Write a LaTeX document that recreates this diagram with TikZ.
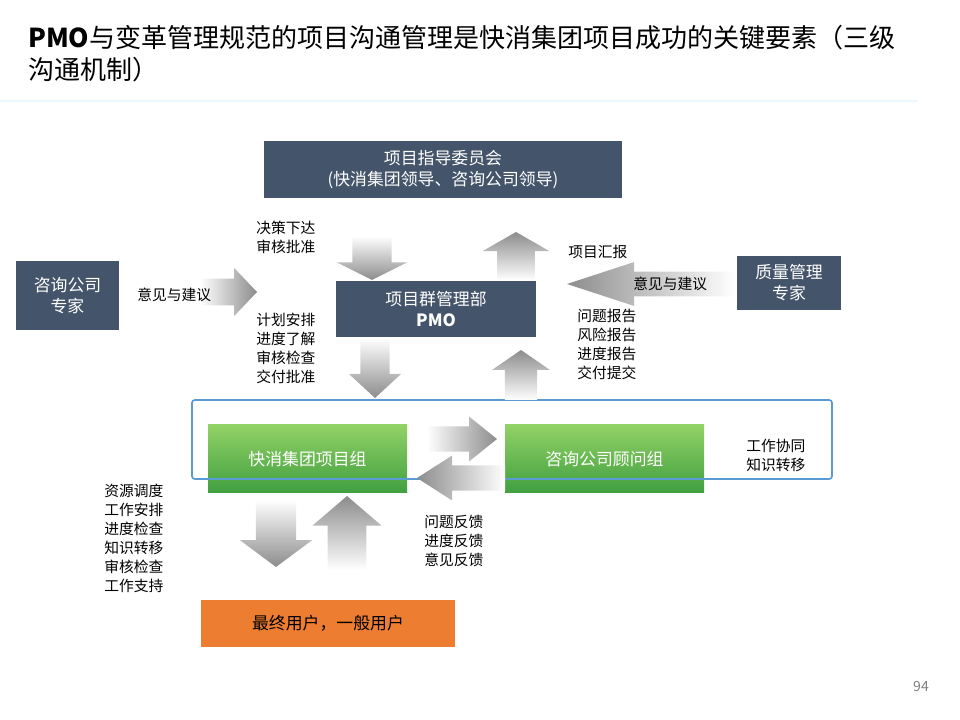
\documentclass[tikz,border=0pt]{standalone}
\usepackage{fontspec}
\setmainfont{Noto Sans CJK SC}
\usepackage{tikz}
\usetikzlibrary{positioning,calc}
\definecolor{slate}{HTML}{44546A}
\definecolor{frame}{HTML}{5B9BD5}
\definecolor{orng}{HTML}{ED7D31}
\tikzstyle{box}=[fill=slate,text=white,align=center,font=\fontsize{12}{15}\selectfont,inner sep=0pt]
\tikzstyle{team}=[top color=green!45!lime!70!black!60,bottom color=green!50!black!75,text=white,font=\fontsize{12}{15}\selectfont,inner sep=0pt]
\tikzstyle{lbl}=[align=left,font=\fontsize{10.5}{13.5}\selectfont,inner sep=0pt,anchor=north west]
% block arrows: centre, start, end, width
\newcommand\arrD[4]{\shade[top color=white,bottom color=black!45] ({#1-0.28*#4},#2) -- ({#1+0.28*#4},#2) -- ({#1+0.28*#4},{#2+0.6*(#3-#2)}) -- ({#1+0.5*#4},{#2+0.6*(#3-#2)}) -- (#1,#3) -- ({#1-0.5*#4},{#2+0.6*(#3-#2)}) -- ({#1-0.28*#4},{#2+0.6*(#3-#2)}) -- cycle;}
\newcommand\arrU[4]{\shade[bottom color=white,top color=black!45] ({#1-0.28*#4},#2) -- ({#1+0.28*#4},#2) -- ({#1+0.28*#4},{#2+0.6*(#3-#2)}) -- ({#1+0.5*#4},{#2+0.6*(#3-#2)}) -- (#1,#3) -- ({#1-0.5*#4},{#2+0.6*(#3-#2)}) -- ({#1-0.28*#4},{#2+0.6*(#3-#2)}) -- cycle;}
\newcommand\arrR[4]{\shade[left color=white,right color=black!45] (#2,{#1-0.28*#4}) -- (#2,{#1+0.28*#4}) -- ({#2+0.6*(#3-#2)},{#1+0.28*#4}) -- ({#2+0.6*(#3-#2)},{#1+0.5*#4}) -- (#3,#1) -- ({#2+0.6*(#3-#2)},{#1-0.5*#4}) -- ({#2+0.6*(#3-#2)},{#1-0.28*#4}) -- cycle;}
\newcommand\arrL[4]{\shade[right color=white,left color=black!45] (#2,{#1-0.28*#4}) -- (#2,{#1+0.28*#4}) -- ({#2+0.6*(#3-#2)},{#1+0.28*#4}) -- ({#2+0.6*(#3-#2)},{#1+0.5*#4}) -- (#3,#1) -- ({#2+0.6*(#3-#2)},{#1-0.5*#4}) -- ({#2+0.6*(#3-#2)},{#1-0.28*#4}) -- cycle;}
\begin{document}
\begin{tikzpicture}[x=0.025cm,y=-0.025cm]
\useasboundingbox (0,0) rectangle (960,720);
\node[anchor=west,inner sep=0pt,font=\fontsize{18.5}{22}\selectfont] (title1) at (28,38) {\textbf{PMO}与变革管理规范的项目沟通管理是快消集团项目成功的关键要素（三级};
\node[anchor=west,inner sep=0pt,font=\fontsize{18.5}{22}\selectfont] (title2) at (28,70) {沟通机制）};
\draw[line width=2pt,cyan!8] (0,101) -- (918,101);

\node[box,minimum width=358*0.025cm,minimum height=57*0.025cm] (steer) at (443,169.5) {项目指导委员会\\(快消集团领导、咨询公司领导)};
\node[box,minimum width=103*0.025cm,minimum height=69*0.025cm] (cexp) at (67.5,295.5) {咨询公司\\专家};
\node[box,minimum width=104*0.025cm,minimum height=54*0.025cm] (qexp) at (789,283) {质量管理\\专家};
\node[box,minimum width=200*0.025cm,minimum height=56*0.025cm] (pmo) at (436,309) {项目群管理部\\\textbf{PMO}};
\node[team,minimum width=199*0.025cm,minimum height=68*0.025cm] (kx) at (307.5,459) {快消集团项目组};
\node[team,minimum width=199*0.025cm,minimum height=68*0.025cm] (zx) at (604.5,459) {咨询公司顾问组};
\node[fill=orng,minimum width=254*0.025cm,minimum height=47*0.025cm,inner sep=0pt,font=\fontsize{12}{15}\selectfont] (user) at (328,623.5) {最终用户，一般用户};
\draw[frame,line width=1.2pt,rounded corners=2pt] (192,400) rectangle (832,479);

\arrD{372}{236}{280}{70}
\arrU{516}{280}{232}{67}
\arrR{292}{200}{257}{48}
\arrL{284}{735}{567}{44}
\arrD{375}{338}{398}{52}
\arrU{521}{400}{350}{58}
\arrR{439}{427}{497}{45}
\arrL{478}{505}{417}{45}
\arrD{276}{500}{567}{72}
\arrU{347}{570}{496}{69}

\node[lbl] (l1) at (256,221) {决策下达\\审核批准};
\node[lbl] (l2) at (568,245) {项目汇报};
\node[lbl] (l3) at (137,288) {意见与建议};
\node[lbl] (l4) at (633,277) {意见与建议};
\node[lbl] (l5) at (256,313) {计划安排\\进度了解\\审核检查\\交付批准};
\node[lbl] (l6) at (577,309) {问题报告\\风险报告\\进度报告\\交付提交};
\node[lbl] (l7) at (746,439) {工作协同\\知识转移};
\node[lbl] (l8) at (104,484) {资源调度\\工作安排\\进度检查\\知识转移\\审核检查\\工作支持};
\node[lbl] (l9) at (424,515) {问题反馈\\进度反馈\\意见反馈};
\node[font=\fontsize{10}{12}\selectfont,text=black!50] (pg) at (921,686) {94};
\end{tikzpicture}
\end{document}
